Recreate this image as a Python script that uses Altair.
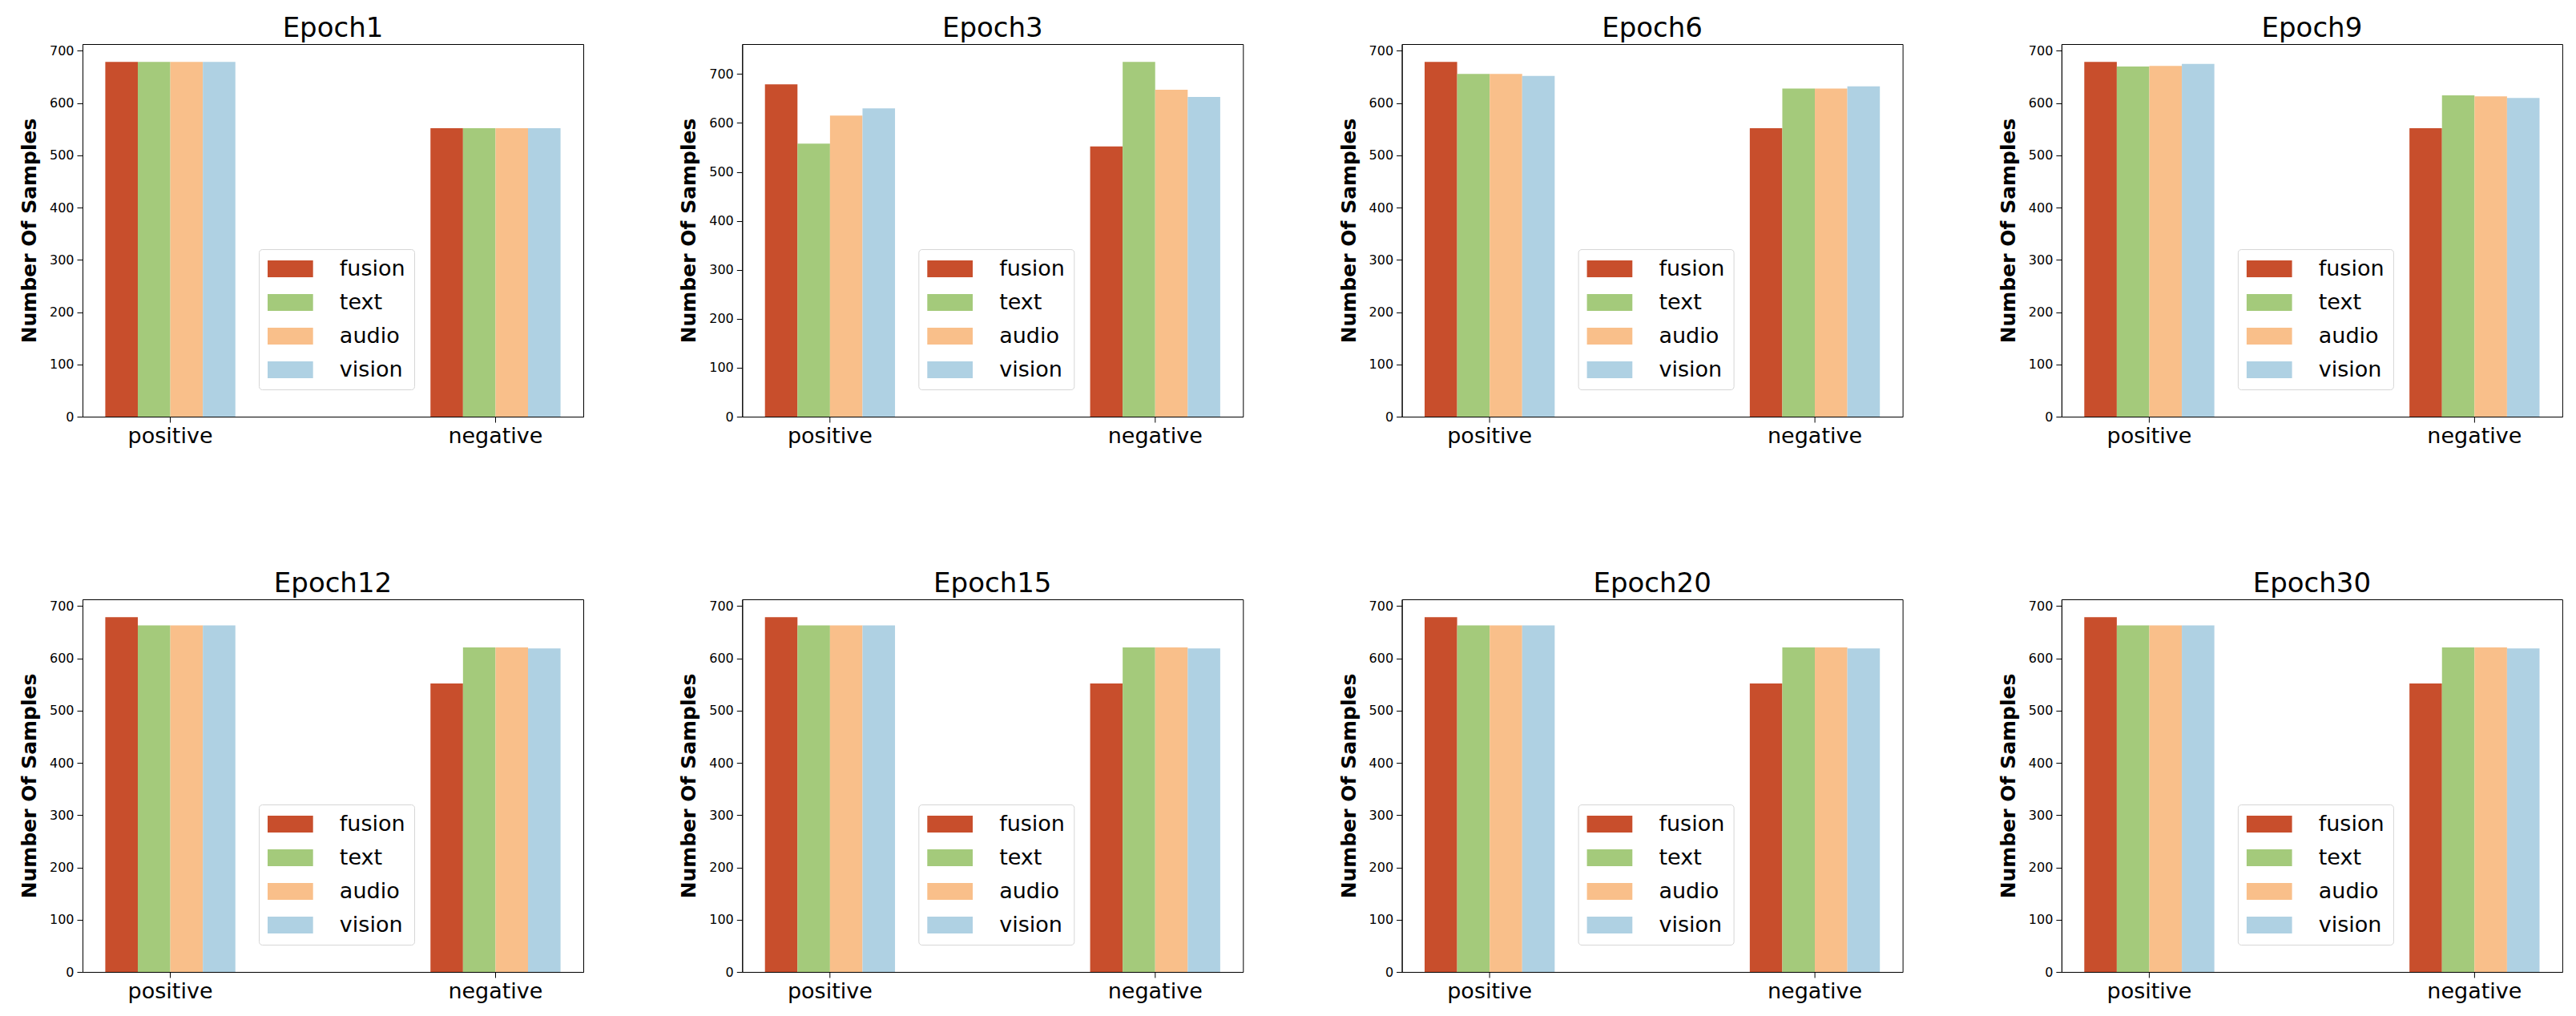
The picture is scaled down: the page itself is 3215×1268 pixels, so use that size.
import altair as alt
import pandas as pd

epochs = ["Epoch1", "Epoch3", "Epoch6", "Epoch9", "Epoch12", "Epoch15", "Epoch20", "Epoch30"]
sentiments = ["positive", "negative"]
modalities = ["fusion", "text", "audio", "vision"]
colors = ["#C84E2C", "#A4CA7B", "#F9BF8A", "#AFD1E3"]
y_ticks = [0, 100, 200, 300, 400, 500, 600, 700]

# one value per epoch (same order as `epochs`)
fusion_pos = [679, 679, 679, 679, 679, 679, 679, 679]
fusion_neg = [552, 552, 552, 552, 552, 552, 552, 552]
text_pos = [679, 558, 656, 670, 663, 663, 663, 663]
text_neg = [552, 725, 628, 615, 621, 621, 621, 621]
audio_pos = [679, 615, 656, 671, 663, 663, 663, 663]
audio_neg = [552, 668, 628, 613, 621, 621, 621, 621]
vision_pos = [679, 630, 652, 675, 663, 663, 663, 663]
vision_neg = [552, 653, 632, 610, 619, 619, 619, 619]

series = {
    "fusion": (fusion_pos, fusion_neg),
    "text": (text_pos, text_neg),
    "audio": (audio_pos, audio_neg),
    "vision": (vision_pos, vision_neg),
}

rows = []
for i, ep in enumerate(epochs):
    for m in modalities:
        pos, neg = series[m]
        rows.append({"epoch": ep, "sentiment": "positive", "modality": m, "value": pos[i]})
        rows.append({"epoch": ep, "sentiment": "negative", "modality": m, "value": neg[i]})
df = pd.DataFrame(rows)

FONT = "DejaVu Sans"


def panel(ep):
    d = df[df["epoch"] == ep]
    ymax = float(d["value"].max()) * 1.05
    return alt.Chart(d).mark_bar().encode(
        x=alt.X(
            "sentiment:N",
            sort=sentiments,
            scale=alt.Scale(domain=sentiments, paddingInner=0.6, paddingOuter=0.07),
            axis=alt.Axis(title=None, labelAngle=0, labelFontSize=27, tickSize=7,
                          labelPadding=4, labelFont=FONT),
        ),
        xOffset=alt.XOffset(
            "modality:N",
            sort=modalities,
            scale=alt.Scale(domain=modalities, paddingInner=0, paddingOuter=0),
        ),
        y=alt.Y(
            "value:Q",
            scale=alt.Scale(domain=[0, ymax], nice=False, zero=True),
            axis=alt.Axis(values=y_ticks, format="d", title="Number Of Samples",
                          titleFontSize=25, titleFontWeight="bold", labelFontSize=16,
                          tickSize=7, labelPadding=4, titlePadding=12),
        ),
        color=alt.Color(
            "modality:N",
            sort=modalities,
            scale=alt.Scale(domain=modalities, range=colors),
            legend=alt.Legend(
                title=None, orient="none", legendX=220, legendY=256, direction="vertical",
                symbolType="M-2.7,-1H2.7V1H-2.7Z", symbolSize=441, symbolOffset=14.85,
                symbolStrokeWidth=0, symbolOpacity=1,
                labelFontSize=27, labelFont=FONT, labelColor="black", labelOffset=48,
                rowPadding=14, padding=11, strokeColor="#d6d6d6", fillColor="white",
                cornerRadius=4,
            ),
        ),
    ).properties(width=625, height=465, title=ep)


panels = [panel(ep) for ep in epochs]

chart = (
    alt.concat(*panels, columns=4, spacing={"row": 228, "column": 198.3}, bounds="flush")
    .resolve_scale(x="independent", y="independent", color="independent")
    .resolve_legend(color="independent")
    .properties(padding={"left": 15, "top": 10, "right": 5, "bottom": 5})
    .configure_view(stroke="black", strokeWidth=1)
    .configure_axis(grid=False, domainColor="black", tickColor="black", labelColor="black",
                    titleColor="black", labelFont=FONT, titleFont=FONT, domainWidth=1, tickWidth=1)
    .configure_title(font=FONT, fontSize=34, fontWeight="normal", color="black", offset=2,
                     anchor="middle")
)

chart.save("out.html", embed_options={"renderer": "svg", "actions": False})
